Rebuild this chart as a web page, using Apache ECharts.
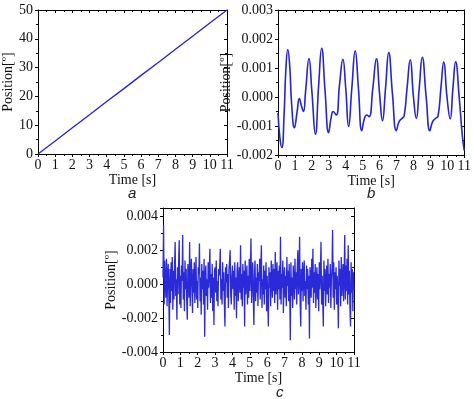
<!DOCTYPE html>
<html>
<head>
<meta charset="utf-8">
<script src="https://cdn.jsdelivr.net/npm/echarts@6/dist/echarts.min.js"></script>
<style>
  html, body { margin: 0; padding: 0; background: #fff; }
  #chart { width: 474px; height: 399px; }
</style>
</head>
<body>
<div id="chart"></div>
<script>
// tick labels
const timeTicks = [0, 1, 2, 3, 4, 5, 6, 7, 8, 9, 10, 11];
const posTicksA = [0, 10, 20, 30, 40, 50];
const posTicksB = [-0.002, -0.001, 0, 0.001, 0.002, 0.003];
const posTicksC = [-0.004, -0.002, 0, 0.002, 0.004];
const posMaxC = 0.0045;

// panel a: ramp, read at whole seconds
const timeA = [0, 1, 2, 3, 4, 5, 6, 7, 8, 9, 10, 11];
const posA = [0, 4.5, 9.1, 13.6, 18.2, 22.7, 27.3, 31.8, 36.4, 40.9, 45.5, 50];

// panel b: oscillation, read at extrema and crossings
const timeB = [0, 0.12, 0.23, 0.36, 0.46, 0.58, 0.70, 0.80, 0.97, 1.12, 1.26, 1.38, 1.50, 1.63, 1.83,
  2.00, 2.21, 2.40, 2.58, 2.78, 2.99, 3.14, 3.26, 3.44, 3.63, 3.83, 4.00, 4.17, 4.36, 4.56,
  4.75, 4.95, 5.10, 5.24, 5.38, 5.60, 5.81, 6.00, 6.17, 6.35, 6.54, 6.76, 6.99, 7.15, 7.32,
  7.45, 7.62, 7.81, 8.00, 8.17, 8.34, 8.52, 8.75, 8.97, 9.13, 9.30, 9.45, 9.62, 9.79, 9.98,
  10.17, 10.33, 10.49, 10.70, 10.88, 11.0];
const posB = [-0.00055, -0.00145, -0.00174, -0.0006, 0.0009, 0.00164, 0.0010, -0.0002, -0.00106, -0.00055, -0.00005, -0.0003, -0.0005, 0.0002, 0.00133,
  0.0002, -0.00128, 0.0004, 0.00168, 0.0002, -0.00123, -0.0007, -0.0005, -0.00062, 0.0004, 0.0013, 0.0003, -0.00102, 0.0003, 0.00159,
  0.0003, -0.00116, -0.00075, -0.00062, -0.00068, 0.0003, 0.00132, 0.0001, -0.00082, 0.0003, 0.00153, 0.0001, -0.00116, -0.00085, -0.00074,
  -0.00065, 0.0003, 0.00128, 0.0, -0.00074, 0.0003, 0.00137, 0.0, -0.00116, -0.00085, -0.00074, -0.00066, 0.0003, 0.00121, 0.0,
  -0.00076, 0.0003, 0.00121, 0.0, -0.0013, -0.00185];

// panel c: noise, 30 samples per second, values in 10^-3 º
const posCmilli = [
  0.4, 3.5, -1.2, 1.4, 0.2, -0.8, 1.5, -1.3, 0.6, 1.2, -0.5, -3.0, 0.9, -1.1, 1.3,
  -0.4, 1.6, -1.5, 0.8, -0.9, 1.1, 2.5, -0.7, 0.3, -2.1, 1.0, -0.6, 1.3, 2.6, -1.2,
  0.5, -1.4, 1.1, 0.2, 2.9, -0.9, 0.7, -1.6, 1.4, -0.3, 0.9, -1.0, -2.1, 1.2, 0.4,
  -0.8, 2.5, -1.3, 0.6, 1.5, -0.2, -1.7, 0.9, -0.5, 1.3, -1.1, 0.3, 1.6, -0.9, 0.2,
  -1.4, 1.0, 0.6, 2.4, -1.0, 0.4, -1.8, 1.2, -0.3, 0.8, -1.2, 1.5, -3.1, 0.5, 1.1,
  -0.7, 0.3, -1.5, 1.3, -0.2, 0.9, 2.1, -1.1, 0.6, -0.8, 1.2, -1.6, 0.4, -2.4, 0.8,
  1.0, -0.5, 1.4, -1.0, 0.2, -1.3, 0.9, 0.5, 1.1, 2.1, -0.9, 0.3, -1.2, 1.3, -0.4,
  0.7, -1.1, -2.5, 1.0, 0.1, 1.2, -0.8, 0.6, -1.4, 0.9, 1.4, 2.0, -0.6, -1.2, 0.5,
  1.1, -0.3, 0.8, -1.5, 1.3, -0.7, 0.4, -2.0, 0.9, 1.3, -1.0, 0.2, 1.0, -0.5, 2.3,
  -0.9, 0.6, -1.3, 1.2, -0.2, 0.8, -2.5, 1.4, -0.6, 0.3, 1.1, -1.2, 0.5, -0.8, 1.5,
  -0.4, 0.9, 2.7, -1.1, 0.2, 1.3, -0.7, -2.4, 0.6, 1.4, -1.0, 0.4, -0.5, 1.2, -1.3,
  0.7, 0.2, 1.5, -0.9, 1.0, 2.3, -1.4, 0.3, -0.6, 1.1, -1.2, 0.8, -0.3, 1.3, -1.6,
  0.5, -0.9, -2.5, 1.0, -0.2, 0.7, -1.3, 1.4, 0.1, -0.8, 1.2, -0.4, 0.9, -1.1, 1.9,
  -0.6, 0.4, 1.3, -1.5, 0.8, -0.3, 1.1, -0.9, 2.8, -1.2, 0.6, -0.2, 1.4, -1.7, 0.3,
  1.0, -0.8, 0.5, -1.3, 1.6, -0.1, 0.8, -1.0, 1.2, -0.5, -3.3, 1.3, -0.7, 0.4, -1.4,
  1.1, 0.2, -0.9, 1.5, -0.3, 0.7, -1.2, 1.0, 2.0, -0.6, 0.3, 2.8, -1.1, -2.5, 0.9,
  -0.4, 1.3, -1.0, 0.6, 1.4, -0.7, 0.2, -1.5, 1.1, -0.3, 0.9, -1.2, 0.5, -3.2, 1.0,
  0.4, -0.8, 1.5, -0.2, 2.1, -1.1, 0.7, -0.5, 1.2, -1.4, 0.3, 1.0, -0.9, 0.6, -1.6,
  1.3, -0.3, 0.8, 2.5, -1.2, 0.5, -1.0, -2.5, 1.4, -0.4, 0.9, -1.3, 0.2, 1.1, -0.6,
  1.5, -1.1, 0.6, -0.2, 1.2, -1.4, 0.4, 0.9, 3.2, -0.8, 1.3, -1.5, 0.7, -0.3, 1.0,
  -1.2, 0.5, -0.6, -2.6, 1.4, -0.1, 0.9, -1.3, 1.6, -0.7, 0.3, 1.2, -1.0, 0.6, 2.9,
  -0.9, 1.1, -0.4, 1.5, -1.2, 2.3, -0.6, 0.8, -1.4, -2.5, 1.3, -0.5, 0.9, -1.6, 0.7,
  -0.3
];
const sampleRateC = 30;

var chart = echarts.init(document.getElementById('chart'));

const font = 'Liberation Serif';
const ink = '#111';

function pairs(xs, ys) {
  return xs.map((x, i) => [x, ys[i]]);
}

function xAxes(grid) {
  const base = {
    type: 'value', gridIndex: grid,
    min: timeTicks[0], max: timeTicks[timeTicks.length - 1], interval: 1,
    splitLine: { show: false },
    axisLine: { onZero: false, lineStyle: { color: '#000', width: 1 } },
    minorTick: { show: true, splitNumber: 2, length: 2, lineStyle: { color: '#000' } }
  };
  return [
    Object.assign({}, base, {
      position: 'bottom',
      name: 'Time [s]', nameLocation: 'middle', nameGap: 19,
      nameTextStyle: { fontFamily: font, fontSize: 14, color: ink },
      axisTick: { length: 3, lineStyle: { color: '#000' } },
      axisLabel: { margin: 4, fontFamily: font, fontSize: 14, color: ink }
    }),
    Object.assign({}, base, {
      position: 'top',
      axisTick: { inside: true, length: 3, lineStyle: { color: '#000' } },
      axisLabel: { show: false }
    })
  ];
}

function yAxes(grid, ticks, max, decimals, gap) {
  const step = ticks[1] - ticks[0];
  const base = {
    type: 'value', gridIndex: grid,
    min: ticks[0], max: max, interval: step,
    splitLine: { show: false },
    axisLine: { onZero: false, lineStyle: { color: '#000', width: 1 } },
    minorTick: { show: true, splitNumber: 2, length: 2, lineStyle: { color: '#000' } }
  };
  return [
    Object.assign({}, base, {
      position: 'left',
      name: 'Position[º]', nameLocation: 'middle', nameGap: gap,
      nameTextStyle: { fontFamily: font, fontSize: 14, color: ink },
      axisTick: { length: 3, lineStyle: { color: '#000' } },
      axisLabel: {
        margin: 5, fontFamily: font, fontSize: 14, color: ink,
        formatter: v => {
          const hit = ticks.some(t => Math.abs(t - v) < step * 1e-6);
          return hit ? v.toFixed(decimals) : '';
        }
      }
    }),
    Object.assign({}, base, {
      position: 'right',
      axisTick: { inside: true, length: 3, lineStyle: { color: '#000' } },
      axisLabel: { show: false }
    })
  ];
}

const timeC = posCmilli.map((_, i) => i / sampleRateC);
const posC = posCmilli.map(v => v / 1000);

var option = {
  animation: false,
  backgroundColor: '#fff',
  grid: [
    { left: 38, top: 10, width: 189, height: 144 },
    { left: 278, top: 10, width: 189, height: 145 },
    { left: 163, top: 208, width: 191, height: 144 }
  ],
  xAxis: [].concat(xAxes(0), xAxes(1), xAxes(2)),
  yAxis: [].concat(
    yAxes(0, posTicksA, posTicksA[posTicksA.length - 1], 0, 22),
    yAxes(1, posTicksB, posTicksB[posTicksB.length - 1], 3, 42),
    yAxes(2, posTicksC, posMaxC, 3, 44)
  ),
  graphic: [
    { type: 'text', left: 128, top: 186, style: { text: 'a', font: 'italic 15px "Liberation Sans"', fill: '#222' } },
    { type: 'text', left: 367, top: 186, style: { text: 'b', font: 'italic 15px "Liberation Sans"', fill: '#222' } },
    { type: 'text', left: 276, top: 385, style: { text: 'c', font: 'italic 15px "Liberation Sans"', fill: '#222' } }
  ],
  series: [
    {
      type: 'line', xAxisIndex: 0, yAxisIndex: 0, showSymbol: false,
      lineStyle: { color: '#2323d0', width: 1.3 },
      data: pairs(timeA, posA)
    },
    {
      type: 'line', xAxisIndex: 2, yAxisIndex: 2, showSymbol: false, smooth: 0.5,
      lineStyle: { color: '#2323d8', width: 1.6 },
      data: pairs(timeB, posB)
    },
    {
      type: 'line', xAxisIndex: 4, yAxisIndex: 4, showSymbol: false,
      lineStyle: { color: '#2a2ad8', width: 1.3 },
      data: pairs(timeC, posC)
    }
  ]
};

option && chart.setOption(option);
</script>
</body>
</html>
